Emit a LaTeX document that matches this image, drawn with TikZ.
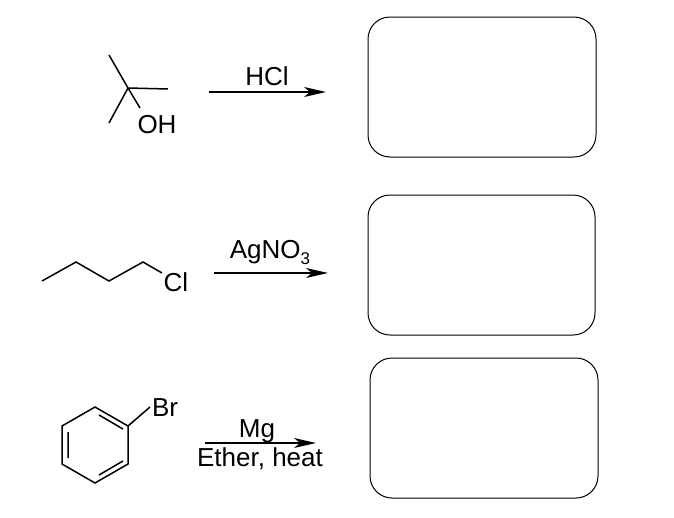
\documentclass[tikz,border=0pt]{standalone}
\usepackage{fontspec}
\setmainfont{Liberation Sans}
\usetikzlibrary{arrows.meta}
\begin{document}
\begin{tikzpicture}[x=1pt,y=-1pt,line width=1.5pt,
  lbl/.style={font=\fontsize{26}{28}\selectfont,inner sep=0pt},
  rxn/.style={-{Stealth[length=22pt,width=10pt,inset=6pt]}},
  prod/.style={draw,rounded corners=22pt,line width=1pt}]
\useasboundingbox (0,0) rectangle (674,517);
% tBuOH
\coordinate (c) at (128,88);
\coordinate (m1) at (109,55);
\coordinate (m2) at (168,89);
\coordinate (m3) at (109,123);
\coordinate (o) at (140,108);
\draw (m1)--(c)--(m2) (c)--(m3) (c)--(o);
\node[lbl] (oh) at (157,125) {OH};
\coordinate (a1s) at (209,92); \coordinate (a1e) at (326,92);
\draw[rxn] (a1s)--(a1e);
\node[lbl] (hcl) at (267,76) {HCl};
\node[prod,minimum width=228pt,minimum height=140pt] (b1) at (482,87) {};
% butyl chloride
\coordinate (p1) at (42,281); \coordinate (p2) at (76,262); \coordinate (p3) at (109,281);
\coordinate (p4) at (143,262); \coordinate (p5) at (162,273);
\draw (p1)--(p2)--(p3)--(p4)--(p5);
\node[lbl] (cl) at (176,282) {Cl};
\coordinate (a2s) at (214,273); \coordinate (a2e) at (328,273);
\draw[rxn] (a2s)--(a2e);
\node[lbl] (ag) at (270,252) {AgNO\raisebox{-6pt}{\fontsize{17}{17}\selectfont 3}};
\node[prod,minimum width=227pt,minimum height=140pt] (b2) at (481.5,265) {};
% bromobenzene
\coordinate (h1) at (95,407); \coordinate (h2) at (128,426); \coordinate (h3) at (128,464);
\coordinate (h4) at (95,483); \coordinate (h5) at (62,464); \coordinate (h6) at (62,426);
\draw (h1)--(h2)--(h3)--(h4)--(h5)--(h6)--cycle;
\draw (68,432)--(68,458) (99,415)--(123,429) (99,475)--(123,461);
\coordinate (br) at (150,407);
\draw (h2)--(br);
\node[lbl] (brl) at (165,408) {Br};
\coordinate (a3s) at (205,443); \coordinate (a3e) at (316,443);
\draw[rxn] (a3s)--(a3e);
\node[lbl] (mg) at (257,431) {Mg};
\node[lbl] (eth) at (260,459) {Ether, heat};
\node[prod,minimum width=228pt,minimum height=140pt] (b3) at (484,428) {};
\end{tikzpicture}
\end{document}
